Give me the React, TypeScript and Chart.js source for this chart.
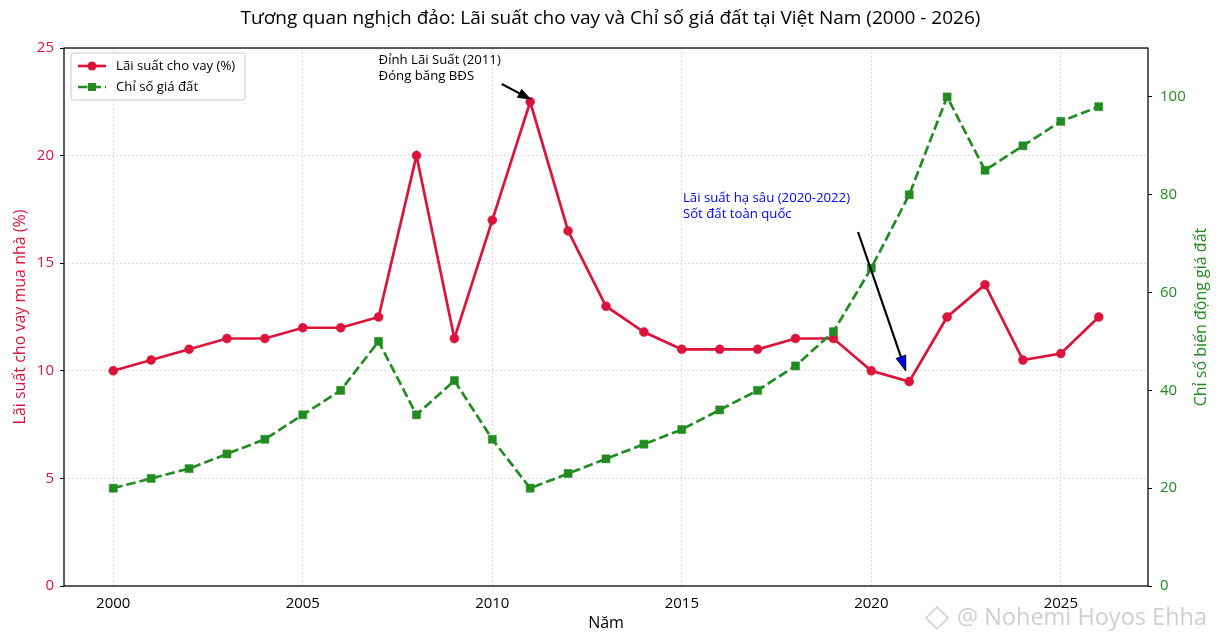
import React, { useEffect, useRef } from 'react';
import { Chart, registerables } from 'chart.js';

Chart.register(...registerables);

const FONT = "'Open Sans', 'Noto Sans', sans-serif";
const RED = '#DC143C';
const GREEN = '#228B22';

const TITLE = 'Tương quan nghịch đảo: Lãi suất cho vay và Chỉ số giá đất tại Việt Nam (2000 - 2026)';
const X_TITLE = 'Năm';
const Y_LEFT_TITLE = 'Lãi suất cho vay mua nhà (%)';
const Y_RIGHT_TITLE = 'Chỉ số biến động giá đất';
const SERIES_LABELS = ['Lãi suất cho vay (%)', 'Chỉ số giá đất'];

const YEARS = [2000, 2001, 2002, 2003, 2004, 2005, 2006, 2007, 2008, 2009, 2010, 2011, 2012, 2013, 2014, 2015, 2016, 2017, 2018, 2019, 2020, 2021, 2022, 2023, 2024, 2025, 2026];
const LENDING_RATE = [10, 10.5, 11, 11.5, 11.5, 12, 12, 12.5, 20, 11.5, 17, 22.5, 16.5, 13, 11.8, 11, 11, 11, 11.5, 11.5, 10, 9.5, 12.5, 14, 10.5, 10.8, 12.5];
const LAND_INDEX = [20, 22, 24, 27, 30, 35, 40, 50, 35, 42, 30, 20, 23, 26, 29, 32, 36, 40, 45, 52, 65, 80, 100, 85, 90, 95, 98];

const X_TICKS = [2000, 2005, 2010, 2015, 2020, 2025];
const LEFT_TICKS = [0, 5, 10, 15, 20, 25];
const RIGHT_TICKS = [0, 20, 40, 60, 80, 100];

// annotations (data coordinates on x / left y axis)
const ANN1_LINES = ['Đỉnh Lãi Suất (2011)', 'Đóng băng BĐS'];
const ANN1_TEXT = [2007.0, 24.75];
const ANN1_FROM = [2010.25, 23.33];
const ANN1_TO = [2011.0, 22.63];

const ANN2_LINES = ['Lãi suất hạ sâu (2020-2022)', 'Sốt đất toàn quốc'];
const ANN2_TEXT = [2015.03, 18.33];
const ANN2_FROM = [2019.65, 16.45];
const ANN2_TO = [2020.91, 9.99];

const WATERMARK = '@ Nohemi Hoyos Ehha';

function drawArrow(ctx: CanvasRenderingContext2D, x1: number, y1: number, x2: number, y2: number, headFill: string, headLen: number, headW: number) {
  const ang = Math.atan2(y2 - y1, x2 - x1);
  const bx = x2 - headLen * Math.cos(ang);
  const by = y2 - headLen * Math.sin(ang);
  ctx.save();
  ctx.strokeStyle = '#000';
  ctx.lineWidth = 2.2;
  ctx.beginPath();
  ctx.moveTo(x1, y1);
  ctx.lineTo(bx, by);
  ctx.stroke();
  const px = -Math.sin(ang) * headW / 2;
  const py = Math.cos(ang) * headW / 2;
  ctx.beginPath();
  ctx.moveTo(x2, y2);
  ctx.lineTo(bx + px, by + py);
  ctx.lineTo(bx - px, by - py);
  ctx.closePath();
  ctx.fillStyle = headFill;
  ctx.fill();
  ctx.lineWidth = 1;
  ctx.strokeStyle = '#000';
  ctx.stroke();
  ctx.restore();
}

const overlayPlugin = {
  id: 'overlay',
  afterDraw(chart: any) {
    const { ctx, chartArea } = chart;
    const xs = chart.scales.x;
    const ys = chart.scales.y;
    const X = (v: number) => xs.getPixelForValue(v);
    const Y = (v: number) => ys.getPixelForValue(v);

    // frame
    ctx.save();
    ctx.strokeStyle = '#000';
    ctx.lineWidth = 1.25;
    ctx.strokeRect(chartArea.left, chartArea.top, chartArea.right - chartArea.left, chartArea.bottom - chartArea.top);
    ctx.restore();

    // right axis title (reads bottom to top)
    ctx.save();
    ctx.translate(1201, (chartArea.top + chartArea.bottom) / 2);
    ctx.rotate(-Math.PI / 2);
    ctx.fillStyle = GREEN;
    ctx.font = `16px ${FONT}`;
    ctx.textAlign = 'center';
    ctx.textBaseline = 'middle';
    ctx.fillText(Y_RIGHT_TITLE, 0, 0);
    ctx.restore();

    // annotations
    ctx.save();
    ctx.font = `13.2px ${FONT}`;
    ctx.textAlign = 'left';
    ctx.textBaseline = 'top';
    ctx.fillStyle = '#000';
    ANN1_LINES.forEach((t, i) => ctx.fillText(t, X(ANN1_TEXT[0]), Y(ANN1_TEXT[1]) + i * 16));
    ctx.fillStyle = '#0000FF';
    ANN2_LINES.forEach((t, i) => ctx.fillText(t, X(ANN2_TEXT[0]), Y(ANN2_TEXT[1]) + i * 16));
    ctx.restore();
    drawArrow(ctx, X(ANN1_FROM[0]), Y(ANN1_FROM[1]), X(ANN1_TO[0]), Y(ANN1_TO[1]), '#000', 12, 9);
    drawArrow(ctx, X(ANN2_FROM[0]), Y(ANN2_FROM[1]), X(ANN2_TO[0]), Y(ANN2_TO[1]), '#0000FF', 15, 10);

    // legend
    const lx = chartArea.left + 7;
    const ly = chartArea.top + 5;
    const lw = 174;
    const lh = 47;
    ctx.save();
    ctx.fillStyle = 'rgba(255,255,255,0.85)';
    ctx.strokeStyle = '#cccccc';
    ctx.lineWidth = 1;
    ctx.beginPath();
    (ctx as any).roundRect(lx, ly, lw, lh, 3);
    ctx.fill();
    ctx.stroke();
    chart.data.datasets.forEach((ds: any, i: number) => {
      const cy = ly + 13 + i * 21;
      ctx.strokeStyle = ds.borderColor;
      ctx.lineWidth = ds.borderWidth;
      ctx.setLineDash(ds.borderDash || []);
      ctx.beginPath();
      ctx.moveTo(lx + 7, cy);
      ctx.lineTo(lx + 35, cy);
      ctx.stroke();
      ctx.setLineDash([]);
      ctx.fillStyle = ds.pointBackgroundColor;
      if (ds.pointStyle === 'rect') {
        const s = 8;
        ctx.fillRect(lx + 21 - s / 2, cy - s / 2, s, s);
      } else {
        ctx.beginPath();
        ctx.arc(lx + 21, cy, 4.5, 0, Math.PI * 2);
        ctx.fill();
      }
      ctx.fillStyle = '#000';
      ctx.font = `13.2px ${FONT}`;
      ctx.textAlign = 'left';
      ctx.textBaseline = 'middle';
      ctx.fillText(ds.label, lx + 45, cy);
    });
    ctx.restore();

    // watermark
    ctx.save();
    ctx.fillStyle = 'rgba(160,160,160,0.5)';
    ctx.font = `23.5px ${FONT}`;
    ctx.textAlign = 'left';
    ctx.textBaseline = 'middle';
    ctx.fillText(WATERMARK, 957, 618);
    ctx.strokeStyle = 'rgba(160,160,160,0.5)';
    ctx.lineWidth = 1.5;
    ctx.beginPath();
    ctx.moveTo(937, 607);
    ctx.lineTo(948, 618);
    ctx.lineTo(937, 629);
    ctx.lineTo(926, 618);
    ctx.closePath();
    ctx.stroke();
    ctx.restore();
  },
};

export default function App() {
  const ref = useRef<HTMLCanvasElement | null>(null);

  useEffect(() => {
    if (!ref.current) return;
    Chart.defaults.font.family = FONT;
    const chart = new Chart(ref.current, {
      type: 'line',
      data: {
        datasets: [
          {
            label: SERIES_LABELS[0],
            data: YEARS.map((y, i) => ({ x: y, y: LENDING_RATE[i] })),
            yAxisID: 'y',
            borderColor: RED,
            backgroundColor: RED,
            pointBackgroundColor: RED,
            pointBorderColor: RED,
            borderWidth: 2.7,
            pointRadius: 4.5,
            pointBorderWidth: 0.5,
            pointStyle: 'circle',
            tension: 0,
            order: 1,
          },
          {
            label: SERIES_LABELS[1],
            data: YEARS.map((y, i) => ({ x: y, y: LAND_INDEX[i] })),
            yAxisID: 'y1',
            borderColor: GREEN,
            backgroundColor: GREEN,
            pointBackgroundColor: GREEN,
            pointBorderColor: GREEN,
            borderWidth: 2.7,
            borderDash: [9.5, 4],
            pointRadius: 5.7,
            pointBorderWidth: 0.5,
            pointStyle: 'rect',
            tension: 0,
            order: 0,
          },
        ] as any,
      },
      options: {
        animation: false,
        responsive: true,
        maintainAspectRatio: false,
        layout: { padding: 0 },
        plugins: {
          legend: { display: false },
          tooltip: { enabled: false },
          title: {
            display: true,
            text: TITLE,
            color: '#000',
            font: { size: 19, weight: 'normal', family: FONT },
            padding: { top: 7.6, bottom: 17.6 },
          },
        },
        scales: {
          x: {
            type: 'linear',
            min: 1998.7,
            max: 2027.3,
            afterBuildTicks: (s: any) => { s.ticks = X_TICKS.map((v) => ({ value: v })); },
            ticks: { color: '#000', font: { size: 15 }, padding: 5, maxRotation: 0, callback: (v: any) => String(v) },
            grid: { color: '#d4d4d4', lineWidth: 0.8, drawTicks: true, tickLength: 4, tickColor: 'rgba(0,0,0,0)' },
            border: { display: false, dash: [2, 2] },
            title: { display: true, text: X_TITLE, color: '#000', font: { size: 16 }, padding: { top: 0, bottom: 10.4 } },
            afterFit: (s: any) => { s.height = 57; },
          },
          y: {
            type: 'linear',
            position: 'left',
            min: 0,
            max: 25,
            afterBuildTicks: (s: any) => { s.ticks = LEFT_TICKS.map((v) => ({ value: v })); },
            ticks: { color: RED, font: { size: 15 }, padding: 6 },
            grid: { color: '#d4d4d4', lineWidth: 0.8, drawTicks: true, tickLength: 4, tickColor: '#000', tickWidth: 1, tickBorderDash: [] },
            border: { display: false, dash: [2, 2] },
            title: { display: true, text: Y_LEFT_TITLE, color: RED, font: { size: 16 }, padding: { top: 10.4, bottom: 0 } },
            afterFit: (s: any) => { s.width = 64; },
          },
          y1: {
            type: 'linear',
            position: 'right',
            min: 0,
            max: 110,
            afterBuildTicks: (s: any) => { s.ticks = RIGHT_TICKS.map((v) => ({ value: v })); },
            ticks: { color: GREEN, font: { size: 15 }, padding: 8 },
            grid: { drawOnChartArea: false, drawTicks: true, tickLength: 4, tickColor: '#000', tickWidth: 1 },
            border: { display: false },
            afterFit: (s: any) => { s.width = 73; },
          },
        },
      } as any,
      plugins: [overlayPlugin],
    });
    return () => chart.destroy();
  }, []);

  return (
    <div style={{ position: 'fixed', left: 0, top: 0, width: 1221, height: 643, background: '#fff' }}>
      <canvas ref={ref} />
    </div>
  );
}
